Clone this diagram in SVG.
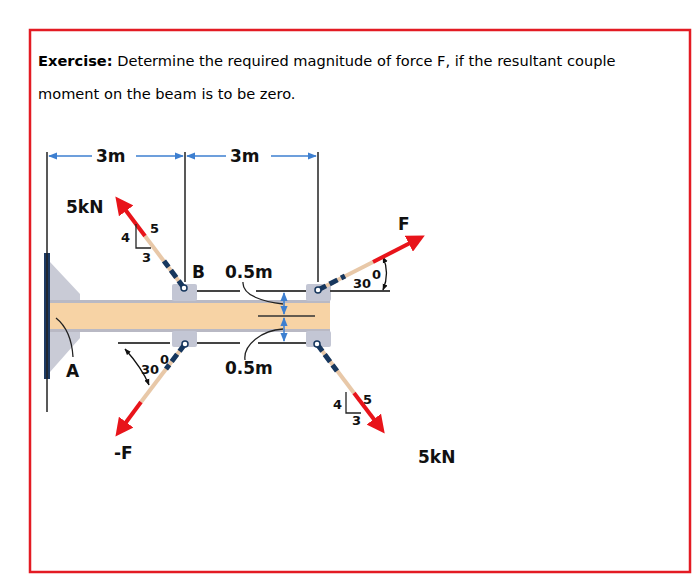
<svg xmlns="http://www.w3.org/2000/svg" width="700" height="585" viewBox="0 0 700 585">
<style>
.t{font-family:"DejaVu Sans",Verdana,sans-serif;font-size:14.6px;fill:#000}
.l{font-family:"DejaVu Sans",Verdana,sans-serif;font-size:17px;font-weight:bold;fill:#111}
.s{font-family:"DejaVu Sans",Verdana,sans-serif;font-size:13px;font-weight:bold;fill:#111}
.ext{stroke:#222;stroke-width:1.5;fill:none}
.dim{stroke:#3d7fd0;stroke-width:1.5;fill:none}
.rod{stroke:#e8c8a8;stroke-width:4;fill:none}
.rodd{stroke:#17375e;stroke-width:5;fill:none;stroke-dasharray:9 4}
.frc{stroke:#e8141a;stroke-width:4;fill:none}
.ref{stroke:#444;stroke-width:2;fill:none}
</style>
<defs>
<marker id="da" viewBox="0 0 10 10" refX="9" refY="5" markerWidth="6" markerHeight="6" orient="auto-start-reverse"><path d="M0,1 L10,5 L0,9z" fill="#3d7fd0"/></marker>
<marker id="ra" viewBox="0 0 10 10" refX="2" refY="5" markerWidth="4.5" markerHeight="4.5" orient="auto"><path d="M0,0 L10,5 L0,10z" fill="#e8141a"/></marker>
<marker id="ka" viewBox="0 0 10 10" refX="9" refY="5" markerWidth="5" markerHeight="5" orient="auto-start-reverse"><path d="M0,1 L10,5 L0,9z" fill="#111"/></marker>
</defs>
<rect x="30" y="30" width="660" height="542" fill="#fff" stroke="#e31b23" stroke-width="2.5"/>
<text class="t" x="38" y="66"><tspan font-weight="bold">Exercise:</tspan> Determine the required magnitude of force F, if the resultant couple</text>
<text class="t" x="38" y="99">moment on the beam is to be zero.</text>
<g id="support-A">
<path d="M50 262L80 294V338L50 372Z" fill="#c9cbd6"/>
<rect x="44" y="253" width="6" height="126" fill="#1d3a63"/>
<circle cx="53" cy="315" r="3" fill="#e8141a"/>
<circle cx="60" cy="312" r="1.6" fill="#1d3a63"/>
</g>
<g id="beam">
<rect x="50" y="302" width="280" height="28" fill="#f7d3a5"/>
<rect x="50" y="300" width="280" height="3" fill="#b9b9c4"/>
<rect x="50" y="329" width="280" height="3" fill="#b9b9c4"/>
</g>
<g id="brackets">
<rect x="172" y="284" width="25" height="17" rx="2" fill="#c3c6d4"/>
<rect x="172" y="331" width="25" height="16" rx="2" fill="#c3c6d4"/>
<rect x="306" y="284" width="25" height="17" rx="2" fill="#c3c6d4"/>
<rect x="306" y="331" width="25" height="16" rx="2" fill="#c3c6d4"/>
</g>
<g id="connectors">
<line class="ext" x1="47" y1="152" x2="47" y2="412"/>
<line class="ext" x1="185" y1="152" x2="185" y2="282"/>
<line class="ext" x1="318" y1="152" x2="318" y2="282"/>
<line class="dim" x1="49" y1="156" x2="92" y2="156" marker-start="url(#da)"/>
<line class="dim" x1="136" y1="156" x2="183" y2="156" marker-end="url(#da)"/>
<line class="dim" x1="187" y1="156" x2="226" y2="156" marker-start="url(#da)"/>
<line class="dim" x1="271" y1="156" x2="316" y2="156" marker-end="url(#da)"/>
<path class="ref" d="M197 291H240M256 291H306M330 291H390M118 343H170M197 343H240M258 343H306"/>
<path d="M258 316H315" stroke="#333" stroke-width="1.5"/>
<line class="dim" x1="284" y1="293" x2="284" y2="314" marker-start="url(#da)" marker-end="url(#da)"/>
<line class="dim" x1="284" y1="318" x2="284" y2="341" marker-start="url(#da)" marker-end="url(#da)"/>
<path d="M243 282C242 296 265 302 283 304" stroke="#222" stroke-width="1.3" fill="none"/>
<path d="M245 360C243 345 262 330 283 329" stroke="#222" stroke-width="1.3" fill="none"/>
<path d="M56 318C66 326 72 340 73 357" stroke="#222" stroke-width="1.3" fill="none"/>
<path d="M125 349Q142 368 149 385" stroke="#111" stroke-width="1.3" fill="none" marker-start="url(#ka)" marker-end="url(#ka)"/>
<path d="M383 257Q390 273 383 290" stroke="#111" stroke-width="1.3" fill="none" marker-start="url(#ka)" marker-end="url(#ka)"/>
</g>
<g id="force-B-top">
<line class="rod" x1="184" y1="288" x2="145" y2="236"/>
<line class="rodd" x1="184" y1="288" x2="164" y2="261"/>
<line class="frc" x1="145" y1="236" x2="124" y2="208" marker-end="url(#ra)"/>
<circle cx="184" cy="288" r="3" fill="#fff" stroke="#17375e" stroke-width="1.5"/>
<path d="M136 224V248H151" stroke="#222" stroke-width="1.3" fill="none"/>
<text class="l" x="66" y="213">5kN</text>
<text class="s" x="121" y="242">4</text>
<text class="s" x="150" y="233">5</text>
<text class="s" x="142" y="262">3</text>
<text class="l" x="192" y="278">B</text>
</g>
<g id="force-B-bottom">
<line class="rod" x1="185" y1="344" x2="141" y2="402"/>
<line class="rodd" x1="185" y1="344" x2="166" y2="369"/>
<line class="frc" x1="141" y1="402" x2="124" y2="425" marker-end="url(#ra)"/>
<circle cx="185" cy="344" r="3" fill="#fff" stroke="#17375e" stroke-width="1.5"/>
<text class="s" x="141" y="374">30</text><text class="s" x="160" y="364" font-size="9">0</text>
<text class="l" x="114" y="459">-F</text>
</g>
<g id="force-top-right">
<line class="rod" x1="318" y1="290" x2="373" y2="262"/>
<line class="rodd" x1="318" y1="290" x2="345" y2="276"/>
<line class="frc" x1="373" y1="262" x2="412" y2="242" marker-end="url(#ra)"/>
<circle cx="318" cy="290" r="3" fill="#fff" stroke="#17375e" stroke-width="1.5"/>
<text class="l" x="398" y="230">F</text>
<text class="s" x="353" y="288">30</text><text class="s" x="372" y="279" font-size="9">0</text>
</g>
<g id="force-bottom-right">
<line class="rod" x1="317" y1="344" x2="354" y2="393"/>
<line class="rodd" x1="317" y1="344" x2="337" y2="371"/>
<line class="frc" x1="354" y1="393" x2="376" y2="422" marker-end="url(#ra)"/>
<circle cx="317" cy="344" r="3" fill="#fff" stroke="#17375e" stroke-width="1.5"/>
<path d="M346 392V413H361" stroke="#222" stroke-width="1.3" fill="none"/>
<text class="s" x="333" y="409">4</text>
<text class="s" x="363" y="404">5</text>
<text class="s" x="352" y="425">3</text>
<text class="l" x="418" y="463">5kN</text>
</g>
<g id="labels">
<text class="l" x="96" y="162" font-size="18">3m</text>
<text class="l" x="230" y="162" font-size="18">3m</text>
<text class="l" x="225" y="278">0.5m</text>
<text class="l" x="225" y="374">0.5m</text>
<text class="l" x="66" y="377">A</text>
</g>
</svg>
